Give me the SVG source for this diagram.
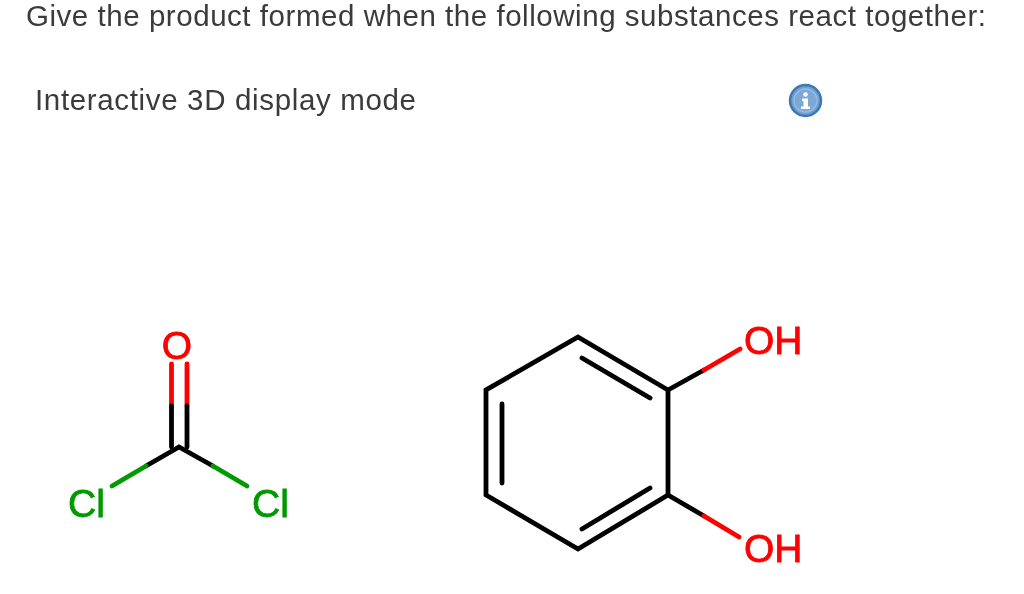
<svg xmlns="http://www.w3.org/2000/svg" width="1024" height="594" viewBox="0 0 1024 594">
<defs><filter id="b" x="-10%" y="-10%" width="120%" height="120%"><feGaussianBlur stdDeviation="0.7"/></filter></defs>
<style>
.t{font-family:"Liberation Sans",Arial,sans-serif;fill:#3a3a3a;font-size:29.500px}
.a{font-family:"Liberation Sans",Arial,sans-serif;font-size:39px;stroke-width:0.800px}
.k,.r,.g{fill:none;stroke-width:4.800;stroke-linecap:round}
.k{stroke:#000}.r{stroke:#f00}.g{stroke:#090}
</style>
<rect width="1024" height="594" fill="#fff"/>
<g id="question" filter="url(#b)">
<text class="t" x="26" y="25.500" textLength="960" lengthAdjust="spacing">Give the product formed when the following substances react together:</text>
<text class="t" x="35" y="109.500" textLength="381" lengthAdjust="spacing">Interactive 3D display mode</text>
</g>
<g id="info" filter="url(#b)">
<circle cx="805.500" cy="100.500" r="15.500" fill="#6f9fd0" stroke="#3f76b5" stroke-width="2.500"/>
<circle cx="805.500" cy="100.500" r="11.500" fill="#7ba8d6" stroke="#94bbe0" stroke-width="1.500"/>
<circle cx="805.500" cy="94.500" r="2.300" fill="#fff"/>
<path d="M802 98.500h6v8h2v2.500h-9v-2.500h2.500v-5.500h-1.500z" fill="#fff"/>
</g>
<g id="connectors" filter="url(#b)">
<path class="r" d="M171.500 364V406M187 364V406"/>
<path class="k" d="M171.500 406V447M187 406V447"/>
<path class="k" d="M146 466L179 447L213 466"/>
<path class="g" d="M112 486L146 466M213 466L247 486"/>
<path class="k" d="M578 337L668 390V495L578 549L486 495V390Z"/>
<path class="k" d="M582 358L650 398M502 404V483M582 529L650 488"/>
<path class="k" d="M668 390L704 370M668 495L704 516"/>
<path class="r" d="M704 370L740 349M704 516L739 537"/>
</g>
<g id="phosgene-labels" filter="url(#b)">
<text class="a" x="177" y="359" text-anchor="middle" fill="#f00" stroke="#f00">O</text>
<text class="a" x="68" y="517" fill="#090" stroke="#090">Cl</text>
<text class="a" x="252" y="517" fill="#090" stroke="#090">Cl</text>
</g>
<g id="catechol-labels" filter="url(#b)">
<text class="a" x="744" y="354" fill="#f00" stroke="#f00">OH</text>
<text class="a" x="744" y="562" fill="#f00" stroke="#f00">OH</text>
</g>
</svg>
